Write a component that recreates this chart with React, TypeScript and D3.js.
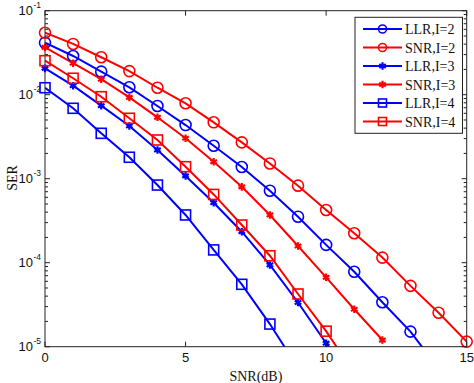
import React from "react";
import * as d3 from "d3";

const snrDb = [0, 1, 2, 3, 4, 5, 6, 7, 8, 9, 10, 11, 12, 13, 14, 15];

const llrI2 = [0.0416, 0.0289, 0.0188, 0.01225, 0.00733, 0.00435, 0.00247, 0.00138, 7.2e-4, 3.53e-4, 1.63e-4, 7.8e-5, 3.38e-5, 1.51e-5, 5.5e-6];
const snrI2 = [0.0547, 0.0402, 0.0279, 0.0191, 0.0121, 0.0079, 0.00469, 0.00271, 0.00152, 8.26e-4, 4.24e-4, 2.24e-4, 1.15e-4, 5.3e-5, 2.54e-5, 1.15e-5];
const llrI3 = [0.0206, 0.0128, 0.0074, 0.00424, 0.0022, 0.00108, 5.18e-4, 2.34e-4, 9.4e-5, 3.36e-5, 1.1e-5, 4.4e-6];
const snrI3 = [0.0366, 0.0237, 0.0153, 0.0093, 0.00538, 0.00303, 0.00159, 8.0e-4, 3.7e-4, 1.58e-4, 6.7e-5, 2.79e-5, 1.2e-5];
const llrI4 = [0.0121, 0.00689, 0.00347, 0.0018, 8.4e-4, 3.7e-4, 1.42e-4, 5.53e-5, 1.86e-5, 5.6e-6];
const snrI4 = [0.0254, 0.0157, 0.00946, 0.00524, 0.00289, 0.00139, 6.5e-4, 2.81e-4, 1.21e-4, 4.24e-5, 1.53e-5, 4.8e-6];

const seriesNames = ["LLR,I=2", "SNR,I=2", "LLR,I=3", "SNR,I=3", "LLR,I=4", "SNR,I=4"];
const seriesValues = [llrI2, snrI2, llrI3, snrI3, llrI4, snrI4];
const seriesColors = ["#0000ff", "#ff0000", "#0000ff", "#ff0000", "#0000ff", "#ff0000"];
const seriesMarkers = ["circle", "circle", "star", "star", "square", "square"];

const xTicks = [0, 5, 10, 15];
const yExponents = [-1, -2, -3, -4, -5];

const W = 474, H = 383;
const L = 45, R = 466.7, T = 10.7, B = 346.7;

function Marker({ kind, x, y, color }: { kind: string; x: number; y: number; color: string }) {
  if (kind === "circle") {
    return <circle cx={x} cy={y} r={5.5} fill="none" stroke={color} strokeWidth={1.6} />;
  }
  if (kind === "square") {
    return <rect x={x - 5} y={y - 5} width={10} height={10} fill="none" stroke={color} strokeWidth={1.6} />;
  }
  const p = d3.symbol(d3.symbolAsterisk, 40)();
  return <path d={p || ""} transform={`translate(${x},${y})`} fill="none" stroke={color} strokeWidth={2.2} />;
}

export default function App() {
  const x = d3.scaleLinear().domain([0, 15]).range([L, R]);
  const y = d3.scaleLog().domain([1e-5, 1e-1]).range([B, T]);
  const line = d3.line<number>().x((_, i) => x(snrDb[i])).y((v) => y(v));

  const minor: number[] = [];
  for (let e = -5; e < -1; e++) {
    for (let k = 2; k <= 9; k++) minor.push(k * Math.pow(10, e));
  }

  const axisColor = "#222";
  const legX = 355, legY = 17.3, legW = 107.5, legH = 116, legStep = 18.5;

  return (
    <svg width={W} height={H} style={{ display: "block", position: "absolute", left: 0, top: 0 }}>
      <rect x={0} y={0} width={W} height={H} fill="#fff" />
      <defs>
        <clipPath id="plotclip">
          <rect x={L} y={T} width={R - L} height={B - T} />
        </clipPath>
      </defs>
      <g clipPath="url(#plotclip)">
        {seriesValues.map((vals, si) => (
          <path key={si} d={line(vals) || ""} fill="none" stroke={seriesColors[si]} strokeWidth={2} />
        ))}
      </g>
      {/* frame */}
      <rect x={L} y={T} width={R - L} height={B - T} fill="none" stroke={axisColor} strokeWidth={1} />
      {seriesValues.map((vals, si) =>
        vals.map((v, i) =>
          v >= 1e-5 ? (
            <Marker key={`${si}-${i}`} kind={seriesMarkers[si]} x={x(snrDb[i])} y={y(v)} color={seriesColors[si]} />
          ) : null
        )
      )}
      {/* x ticks */}
      {xTicks.map((t) => (
        <g key={t}>
          <line x1={x(t)} x2={x(t)} y1={B} y2={B - 5} stroke={axisColor} />
          <line x1={x(t)} x2={x(t)} y1={T} y2={T + 5} stroke={axisColor} />
          <text x={x(t)} y={362} fontFamily="Liberation Sans, Arial, sans-serif" fontSize={13} textAnchor="middle" fill="#111">
            {t}
          </text>
        </g>
      ))}
      {/* y major ticks */}
      {yExponents.map((e) => {
        const yy = y(Math.pow(10, e));
        return (
          <g key={e}>
            <line x1={L} x2={L + 5} y1={yy} y2={yy} stroke={axisColor} />
            <line x1={R} x2={R - 5} y1={yy} y2={yy} stroke={axisColor} />
            <text x={33} y={yy + 4.5} fontFamily="Liberation Sans, Arial, sans-serif" fontSize={13} textAnchor="end" fill="#111">
              10
            </text>
            <text x={33.5} y={yy - 2.5} fontFamily="Liberation Sans, Arial, sans-serif" fontSize={8.5} textAnchor="start" fill="#111">
              {e}
            </text>
          </g>
        );
      })}
      {/* y minor ticks */}
      {minor.map((m, i) => {
        const yy = y(m);
        return (
          <g key={i}>
            <line x1={L} x2={L + 3} y1={yy} y2={yy} stroke={axisColor} />
            <line x1={R} x2={R - 3} y1={yy} y2={yy} stroke={axisColor} />
          </g>
        );
      })}
      {/* axis labels */}
      <text x={(L + R) / 2} y={381} fontFamily="Liberation Serif, Times New Roman, serif" fontSize={14} textAnchor="middle" fill="#111">
        SNR(dB)
      </text>
      <text
        transform={`translate(17,178) rotate(-90)`}
        fontFamily="Liberation Serif, Times New Roman, serif"
        fontSize={14}
        textAnchor="middle"
        fill="#111"
      >
        SER
      </text>
      {/* legend */}
      <rect x={legX} y={legY} width={legW} height={legH} fill="#fff" stroke={axisColor} strokeWidth={1} />
      {seriesNames.map((name, si) => {
        const ly = legY + 11.7 + si * legStep;
        return (
          <g key={name}>
            <line x1={363} x2={402} y1={ly} y2={ly} stroke={seriesColors[si]} strokeWidth={2} />
            {seriesMarkers[si] === "circle" ? (
              <circle cx={382.5} cy={ly} r={4} fill="none" stroke={seriesColors[si]} strokeWidth={1.6} />
            ) : seriesMarkers[si] === "square" ? (
              <rect x={378.5} y={ly - 4} width={8} height={8} fill="none" stroke={seriesColors[si]} strokeWidth={1.6} />
            ) : (
              <Marker kind="star" x={382.5} y={ly} color={seriesColors[si]} />
            )}
            <text x={405} y={ly + 5} fontFamily="Liberation Serif, Times New Roman, serif" fontSize={14} fill="#111">
              {name}
            </text>
          </g>
        );
      })}
    </svg>
  );
}
